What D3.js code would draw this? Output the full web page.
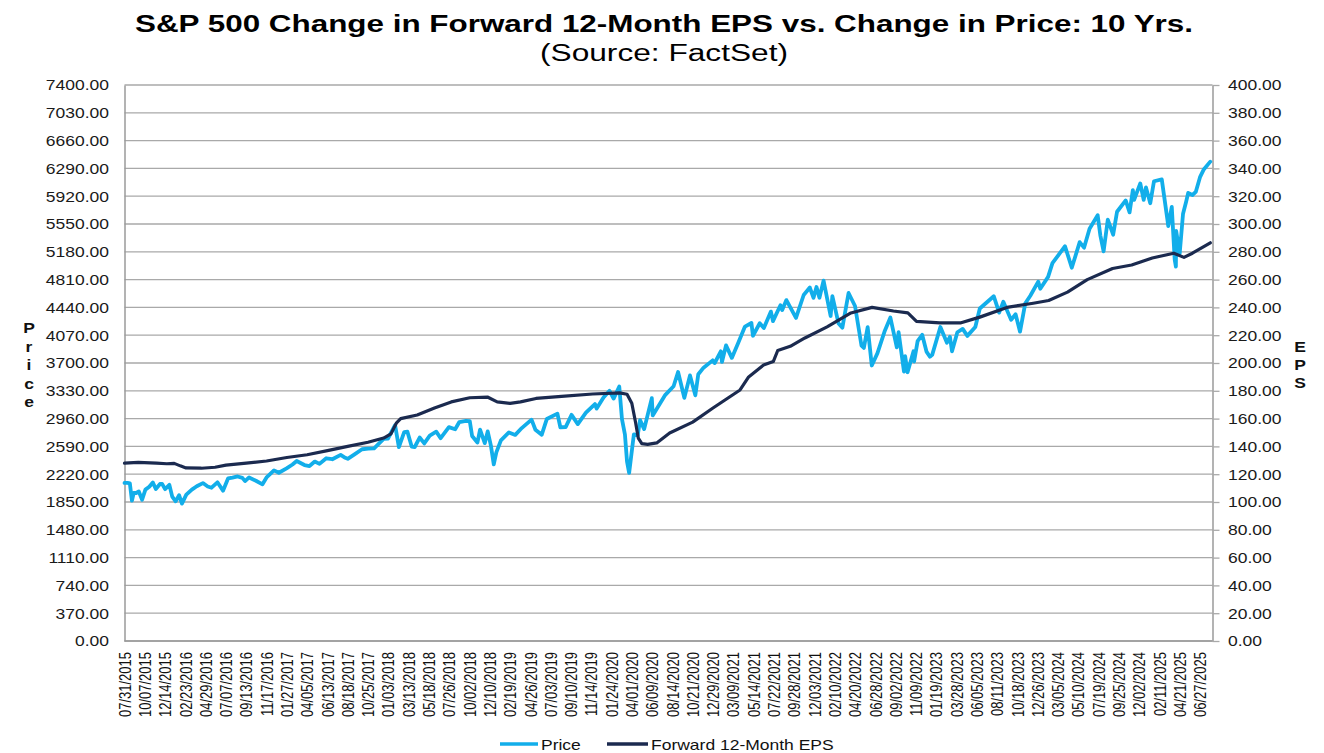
<!DOCTYPE html>
<html>
<head>
<meta charset="utf-8">
<script src="https://cdn.jsdelivr.net/npm/d3@7"></script>
<style>
  html, body { margin: 0; padding: 0; background: #fff; }
  svg text { font-family: "Liberation Sans", Arial, sans-serif; }
</style>
</head>
<body>
<svg id="chart" width="1324" height="753"></svg>
<script>
const titleText = "S&P 500 Change in Forward 12-Month EPS vs. Change in Price: 10 Yrs.";
const subtitleText = "(Source: FactSet)";

const xTickLabels = ["07/31/2015","10/07/2015","12/14/2015","02/23/2016","04/29/2016","07/07/2016","09/13/2016","11/17/2016","01/27/2017","04/05/2017","06/13/2017","08/18/2017","10/25/2017","01/03/2018","03/13/2018","05/18/2018","07/26/2018","10/02/2018","12/10/2018","02/19/2019","04/26/2019","07/03/2019","09/10/2019","11/14/2019","01/24/2020","04/01/2020","06/09/2020","08/14/2020","10/21/2020","12/29/2020","03/09/2021","05/14/2021","07/22/2021","09/28/2021","12/03/2021","02/10/2022","04/20/2022","06/28/2022","09/02/2022","11/09/2022","01/19/2023","03/28/2023","06/05/2023","08/11/2023","10/18/2023","12/26/2023","03/05/2024","05/10/2024","07/19/2024","09/25/2024","12/02/2024","02/11/2025","04/21/2025","06/27/2025"];

const priceTicks = d3.range(0, 7401, 370);
const epsTicks = d3.range(0, 401, 20);

const priceDates = ["07/31/2015","08/10/2015","08/18/2015","08/25/2015","08/31/2015","09/08/2015","09/17/2015","09/28/2015","10/09/2015","10/22/2015","11/03/2015","11/13/2015","11/27/2015","12/04/2015","12/14/2015","12/29/2015","01/08/2016","01/20/2016","02/01/2016","02/11/2016","02/26/2016","03/15/2016","03/31/2016","04/20/2016","05/06/2016","05/19/2016","06/08/2016","06/27/2016","07/14/2016","07/29/2016","08/15/2016","08/31/2016","09/09/2016","09/22/2016","10/14/2016","11/04/2016","11/18/2016","12/13/2016","12/30/2016","01/26/2017","02/15/2017","03/01/2017","03/27/2017","04/13/2017","05/01/2017","05/17/2017","06/09/2017","06/29/2017","07/26/2017","08/10/2017","08/18/2017","09/11/2017","10/05/2017","10/26/2017","11/15/2017","12/18/2017","01/02/2018","01/26/2018","02/08/2018","02/26/2018","03/09/2018","03/23/2018","04/02/2018","04/18/2018","05/03/2018","05/21/2018","06/12/2018","06/27/2018","07/25/2018","08/15/2018","08/29/2018","09/20/2018","10/03/2018","10/11/2018","10/29/2018","11/07/2018","11/23/2018","12/03/2018","12/14/2018","12/24/2018","01/02/2019","01/18/2019","02/15/2019","03/08/2019","03/29/2019","04/30/2019","05/13/2019","06/03/2019","06/20/2019","07/26/2019","08/05/2019","08/23/2019","09/12/2019","10/02/2019","10/28/2019","11/27/2019","12/03/2019","12/27/2019","01/17/2020","01/31/2020","02/19/2020","02/28/2020","03/09/2020","03/16/2020","03/23/2020","04/08/2020","04/21/2020","04/29/2020","05/13/2020","06/08/2020","06/11/2020","07/22/2020","08/18/2020","09/02/2020","09/23/2020","10/12/2020","10/30/2020","11/09/2020","11/27/2020","12/28/2020","01/04/2021","01/25/2021","01/29/2021","02/12/2021","03/04/2021","03/26/2021","04/16/2021","05/07/2021","05/12/2021","06/04/2021","06/18/2021","07/12/2021","07/19/2021","08/13/2021","08/19/2021","09/02/2021","10/04/2021","10/29/2021","11/18/2021","11/30/2021","12/10/2021","12/20/2021","01/03/2022","01/27/2022","02/02/2022","02/23/2022","03/08/2022","03/29/2022","04/20/2022","05/12/2022","05/20/2022","06/02/2022","06/16/2022","07/05/2022","07/29/2022","08/16/2022","09/06/2022","09/12/2022","09/30/2022","10/04/2022","10/12/2022","11/01/2022","11/03/2022","11/15/2022","12/01/2022","12/16/2022","12/28/2022","01/05/2023","02/02/2023","02/24/2023","03/06/2023","03/13/2023","03/31/2023","04/18/2023","05/04/2023","05/31/2023","06/15/2023","07/31/2023","08/18/2023","09/01/2023","09/27/2023","10/12/2023","10/27/2023","11/14/2023","12/01/2023","12/28/2023","01/04/2024","01/31/2024","02/15/2024","03/28/2024","04/19/2024","05/15/2024","05/30/2024","06/18/2024","07/16/2024","07/25/2024","08/05/2024","08/19/2024","09/06/2024","09/19/2024","10/18/2024","10/31/2024","11/11/2024","11/15/2024","12/06/2024","12/18/2024","12/26/2024","01/10/2025","01/23/2025","02/19/2025","03/10/2025","03/13/2025","03/25/2025","04/04/2025","04/08/2025","04/09/2025","04/21/2025","05/02/2025","05/12/2025","05/19/2025","06/02/2025","06/13/2025","06/27/2025","07/10/2025","07/31/2025"];
const priceValues = [2104,2104,2097,1868,1972,1970,1990,1881,2015,2052,2109,2023,2090,2092,2021,2078,1922,1859,1940,1829,1948,2015,2060,2102,2057,2040,2112,2001,2163,2174,2190,2171,2128,2177,2133,2085,2182,2271,2239,2297,2349,2396,2342,2329,2388,2357,2432,2419,2477,2438,2425,2488,2552,2560,2565,2690,2695,2873,2581,2780,2786,2588,2582,2708,2630,2733,2786,2699,2846,2818,2914,2931,2926,2728,2641,2814,2633,2790,2600,2351,2510,2671,2776,2743,2834,2946,2812,2744,2954,3026,2845,2847,3010,2887,3039,3154,3093,3240,3330,3226,3386,2954,2747,2386,2237,2750,2737,2940,2820,3232,3002,3276,3390,3580,3237,3535,3270,3550,3638,3735,3700,3855,3714,3934,3768,3975,4185,4232,4063,4229,4166,4384,4258,4468,4405,4537,4300,4605,4704,4567,4712,4568,4796,4326,4589,4225,4170,4632,4459,3930,3901,4177,3667,3831,4130,4305,3908,4110,3586,3791,3577,3856,3720,3991,4076,3852,3783,3808,4179,3970,4048,3855,4109,4154,4061,4180,4426,4589,4370,4516,4274,4349,4117,4496,4595,4783,4688,4846,5029,5254,4967,5308,5235,5487,5667,5399,5186,5608,5408,5713,5864,5705,6001,5870,6090,5872,6037,5827,6119,6144,5615,5522,5777,5074,4983,5457,5158,5687,5844,5963,5936,5977,6173,6280,6380];

const epsDates = ["07/31/2015","09/15/2015","11/15/2015","12/20/2015","01/15/2016","02/05/2016","02/25/2016","04/15/2016","05/31/2016","07/07/2016","09/13/2016","11/17/2016","01/27/2017","04/05/2017","06/13/2017","08/18/2017","10/25/2017","12/18/2017","01/12/2018","01/31/2018","02/14/2018","04/10/2018","06/06/2018","08/02/2018","10/03/2018","12/02/2018","01/05/2019","02/19/2019","03/25/2019","05/15/2019","08/09/2019","11/19/2019","02/20/2020","03/16/2020","04/01/2020","04/14/2020","04/23/2020","05/05/2020","05/25/2020","06/24/2020","08/05/2020","10/21/2020","12/29/2020","03/31/2021","04/28/2021","06/17/2021","07/20/2021","08/04/2021","09/15/2021","11/02/2021","01/15/2022","04/06/2022","06/17/2022","08/26/2022","10/13/2022","11/11/2022","01/31/2023","04/10/2023","06/15/2023","09/13/2023","12/11/2023","02/02/2024","04/05/2024","06/10/2024","09/04/2024","11/07/2024","01/17/2025","04/01/2025","05/05/2025","06/02/2025","07/31/2025"];
const epsValues = [128,128.5,128,127.5,127.8,126,124.5,124.3,125,126.5,128,129.5,132,134,137,140,143,146,149,157,160,162.6,167.6,172,175,175.5,172,171,172,174.5,176,177.7,178.5,177.5,171,157,146,142,141.5,142.5,149.6,157.5,167.6,180.6,190,198.5,201,209,212,218,226,236,240,237.4,236,230,228.8,228.8,233,240,243,245,251,260,268,270.5,275.5,279,276,279,286.5];

const seriesNames = ["Price", "Forward 12-Month EPS"];
const seriesColors = ["#12aeea", "#1b2a4f"];

// ---- layout ----
const W = 1324, H = 753;
const plotLeft = 124.5, plotRight = 1212.5, plotTop = 85, plotBottom = 641;
const firstLabelX = 124.5, lastLabelX = 1200;
const sx = 1.25; // horizontal text stretch of the original

const parse = d3.timeParse("%m/%d/%Y");
const fmtDate = d3.timeFormat("%m/%d/%Y");
const labelDates = xTickLabels.map(parse);
const step = (lastLabelX - firstLabelX) / (labelDates.length - 1);

const x = d3.scaleTime()
  .domain(labelDates)
  .range(labelDates.map((d, i) => firstLabelX + i * step));
const yP = d3.scaleLinear().domain([0, 7400]).range([plotBottom, plotTop]);
const yE = d3.scaleLinear().domain([0, 400]).range([plotBottom, plotTop]);

const svg = d3.select("#chart");
svg.append("rect").attr("width", W).attr("height", H).attr("fill", "#fff");

// gridlines
svg.append("g").selectAll("line").data(priceTicks).join("line")
  .attr("x1", plotLeft).attr("x2", plotRight)
  .attr("y1", d => yP(d)).attr("y2", d => yP(d))
  .attr("stroke", "#a9a9a9").attr("stroke-width", 1.3);

// left axis
const gL = svg.append("g").attr("transform", `translate(${plotLeft},0)`)
  .call(d3.axisLeft(yP).tickValues(priceTicks).tickFormat(d3.format(".2f")).tickSize(0).tickSizeOuter(0));
gL.select(".domain").attr("stroke", "#9a9a9a").attr("stroke-width", 1.5);
gL.selectAll("text")
  .attr("x", 0).attr("dy", "0.35em")
  .attr("transform", `translate(-15.5,0) scale(${sx},1)`)
  .attr("text-anchor", "end")
  .attr("fill", "#1a1a1a").style("font-size", "14px").style("font-family", "'Liberation Sans', Arial, sans-serif");

// right axis
const gR = svg.append("g").attr("transform", `translate(${plotRight},0)`)
  .call(d3.axisRight(yE).tickValues(epsTicks).tickFormat(d3.format(".2f")).tickSize(7).tickSizeOuter(0));
gR.select(".domain").attr("stroke", "#9a9a9a").attr("stroke-width", 1.5);
gR.selectAll(".tick line").attr("stroke", "#a9a9a9").attr("stroke-width", 1.3);
gR.selectAll("text")
  .attr("x", 0).attr("dy", "0.35em")
  .attr("transform", `translate(15.5,0) scale(${sx},1)`)
  .attr("text-anchor", "start")
  .attr("fill", "#1a1a1a").style("font-size", "14px").style("font-family", "'Liberation Sans', Arial, sans-serif");

// bottom axis
const gB = svg.append("g").attr("transform", `translate(0,${plotBottom})`)
  .call(d3.axisBottom(x).tickValues(labelDates).tickFormat(fmtDate).tickSize(0).tickSizeOuter(0));
gB.select(".domain").attr("stroke", "#9a9a9a").attr("stroke-width", 1.5)
  .attr("d", `M${plotLeft},0H${plotRight}`);
gB.selectAll("text")
  .attr("x", 0).attr("y", 0).attr("dy", "0.35em")
  .attr("transform", `translate(0,11) rotate(-90) scale(1,${sx})`)
  .attr("text-anchor", "end")
  .attr("fill", "#111").style("font-size", "13px").style("font-family", "'Liberation Sans', Arial, sans-serif");

// lines
const priceData = priceDates.map((d, i) => ({ date: parse(d), v: priceValues[i] }));
const epsData = epsDates.map((d, i) => ({ date: parse(d), v: epsValues[i] }));

svg.append("path").datum(priceData)
  .attr("fill", "none").attr("stroke", seriesColors[0]).attr("stroke-width", 3.8)
  .attr("stroke-linejoin", "round").attr("stroke-linecap", "round")
  .attr("d", d3.line().x(d => x(d.date)).y(d => yP(d.v)));
svg.append("path").datum(epsData)
  .attr("fill", "none").attr("stroke", seriesColors[1]).attr("stroke-width", 3.2)
  .attr("stroke-linejoin", "round").attr("stroke-linecap", "round")
  .attr("d", d3.line().x(d => x(d.date)).y(d => yE(d.v)));

// title
svg.append("text").attr("x", 664).attr("y", 31.5).attr("text-anchor", "middle")
  .attr("textLength", 1058).attr("lengthAdjust", "spacingAndGlyphs")
  .style("font-size", "23px").style("font-weight", "bold").attr("fill", "#000")
  .text(titleText);
svg.append("text").attr("x", 664).attr("y", 61).attr("text-anchor", "middle")
  .attr("textLength", 248).attr("lengthAdjust", "spacingAndGlyphs")
  .style("font-size", "23px").attr("fill", "#000")
  .text(subtitleText);

// axis titles (stacked letters)
const leftTitle = "Price".split("");
svg.append("g").selectAll("text").data(leftTitle).join("text")
  .attr("transform", (d, i) => `translate(29,${333 + i * 18.5}) scale(${sx},1)`)
  .attr("text-anchor", "middle").style("font-size", "14px").style("font-weight", "bold").attr("fill", "#111")
  .text(d => d);
const rightTitle = "EPS".split("");
svg.append("g").selectAll("text").data(rightTitle).join("text")
  .attr("transform", (d, i) => `translate(1300,${352 + i * 18}) scale(${sx},1)`)
  .attr("text-anchor", "middle").style("font-size", "14px").style("font-weight", "bold").attr("fill", "#111")
  .text(d => d);

// legend
const legendItems = [
  { name: seriesNames[0], color: seriesColors[0], x1: 500, x2: 538, tx: 541 },
  { name: seriesNames[1], color: seriesColors[1], x1: 607, x2: 648, tx: 651 }
];
const lg = svg.append("g");
legendItems.forEach(it => {
  lg.append("line").attr("x1", it.x1).attr("x2", it.x2).attr("y1", 744).attr("y2", 744)
    .attr("stroke", it.color).attr("stroke-width", 3.5);
  lg.append("text").attr("transform", `translate(${it.tx},749.5) scale(${sx},1)`)
    .style("font-size", "14px").attr("fill", "#111").text(it.name);
});
</script>
</body>
</html>
